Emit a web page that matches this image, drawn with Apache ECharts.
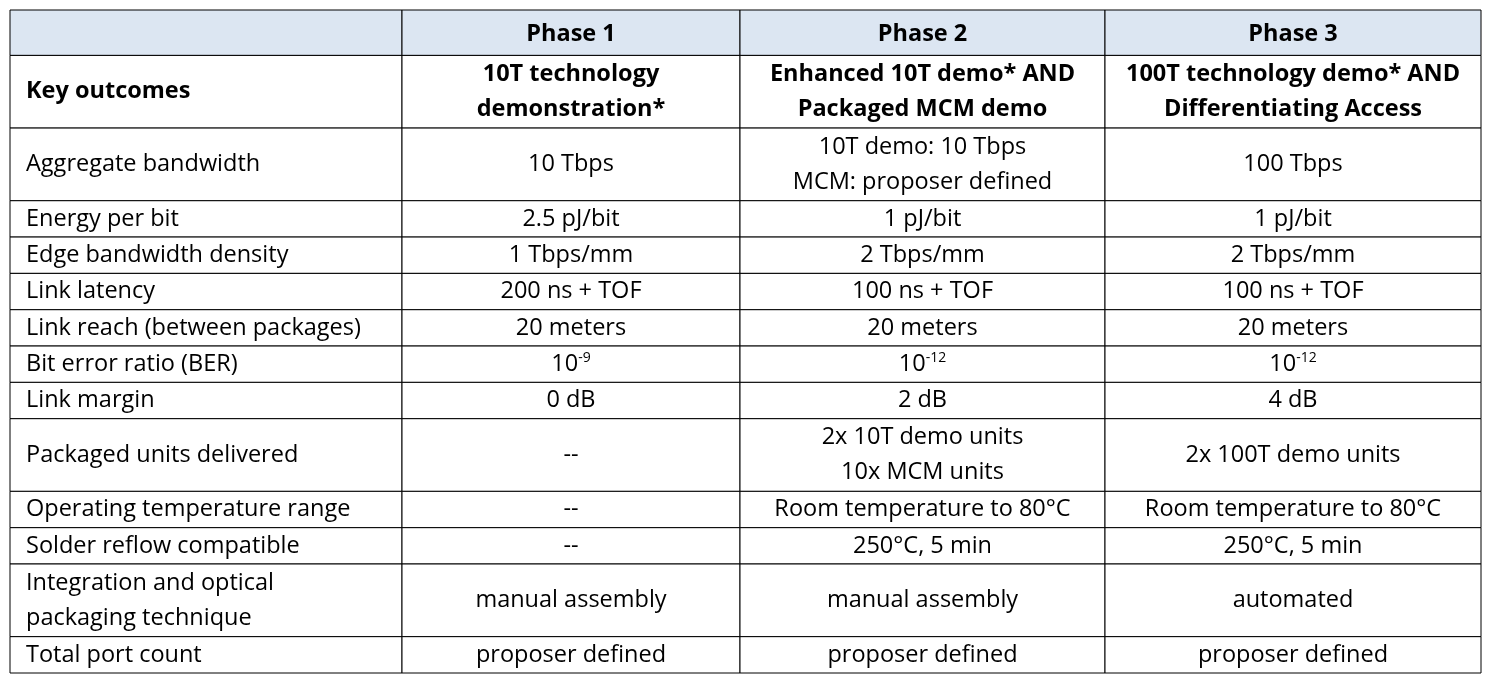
<!DOCTYPE html>
<html lang="en" style="height:100%">
<head>
<meta charset="UTF-8">
<title>Key outcomes</title>
<script src="https://cdn.jsdelivr.net/npm/echarts@6/dist/echarts.min.js"></script>
</head>
<body style="height:100%;margin:0;background:#fff">
<div id="main" style="width:1485px;height:685px;"></div>
<script type="text/javascript">
// table content
var headers = ['', 'Phase 1', 'Phase 2', 'Phase 3'];
var outcomeRow = ['Key outcomes', '10T technology\ndemonstration*', 'Enhanced 10T demo* AND\nPackaged MCM demo', '100T technology demo* AND\nDifferentiating Access'];
var metrics = ['Aggregate bandwidth', 'Energy per bit', 'Edge bandwidth density', 'Link latency',
  'Link reach (between packages)', 'Bit error ratio (BER)', 'Link margin', 'Packaged units delivered',
  'Operating temperature range', 'Solder reflow compatible', 'Integration and optical\npackaging technique', 'Total port count'];
var phase1 = ['10 Tbps', '2.5 pJ/bit', '1 Tbps/mm', '200 ns + TOF', '20 meters', '10{sup|-9}', '0 dB', '--', '--', '--', 'manual assembly', 'proposer defined'];
var phase2 = ['10T demo: 10 Tbps\nMCM: proposer defined', '1 pJ/bit', '2 Tbps/mm', '100 ns + TOF', '20 meters', '10{sup|-12}', '2 dB', '2x 10T demo units\n10x MCM units', 'Room temperature to 80°C', '250°C, 5 min', 'manual assembly', 'proposer defined'];
var phase3 = ['100 Tbps', '1 pJ/bit', '2 Tbps/mm', '100 ns + TOF', '20 meters', '10{sup|-12}', '4 dB', '2x 100T demo units', 'Room temperature to 80°C', '250°C, 5 min', 'automated', 'proposer defined'];
var colWidths = [392, 338, 365, 376];
var headerUnits = 1.25;

var rows = [headers, outcomeRow];
metrics.forEach(function (m, i) { rows.push([m, phase1[i], phase2[i], phase3[i]]); });
function lines(row) { return Math.max.apply(null, row.map(function (t) { return t.split('\n').length; })); }
var rowEdges = [0];
rows.forEach(function (r, i) { rowEdges.push(rowEdges[i] + (i === 0 ? headerUnits : lines(r))); });
var colEdges = [0];
colWidths.forEach(function (w, i) { colEdges.push(colEdges[i] + w); });

var data = [];
rows.forEach(function (r, ri) { r.forEach(function (t, ci) { data.push([ci, ri, t]); }); });

var myChart = echarts.init(document.getElementById('main'));
var option = {
  animation: false,
  grid: { left: 10, right: 4, top: 10, bottom: 12 },
  xAxis: { type: 'value', min: 0, max: colEdges[colEdges.length - 1], show: false },
  yAxis: { type: 'value', min: 0, max: rowEdges[rowEdges.length - 1], inverse: true, show: false },
  series: [{
    type: 'custom',
    data: data,
    renderItem: function (params, api) {
      var c = api.value(0), r = api.value(1);
      var t = data[params.dataIndex][2];
      var p0 = api.coord([colEdges[c], rowEdges[r]]);
      var p1 = api.coord([colEdges[c + 1], rowEdges[r + 1]]);
      var bold = r < 2;
      var left = c === 0;
      return {
        type: 'group',
        children: [{
          type: 'rect',
          shape: { x: p0[0], y: p0[1], width: p1[0] - p0[0], height: p1[1] - p0[1] },
          style: { fill: r === 0 ? '#dce6f2' : '#fff', stroke: '#000', lineWidth: 1 }
        }, {
          type: 'text',
          x: left ? p0[0] + 16 : (p0[0] + p1[0]) / 2,
          y: (p0[1] + p1[1]) / 2 + (r === 0 ? 2 : 0),
          style: {
            text: t,
            fontFamily: 'Open Sans, Liberation Sans, sans-serif',
            fontSize: 23.5,
            fontWeight: bold ? 'bold' : 'normal',
            lineHeight: 35,
            fill: '#000',
            align: left ? 'left' : 'center',
            verticalAlign: 'middle',
            rich: {
              sup: { fontSize: 14, padding: [0, 0, 13, 0], fontFamily: 'Open Sans, Liberation Sans, sans-serif' }
            }
          }
        }]
      };
    }
  }]
};
myChart.setOption(option);
</script>
</body>
</html>
